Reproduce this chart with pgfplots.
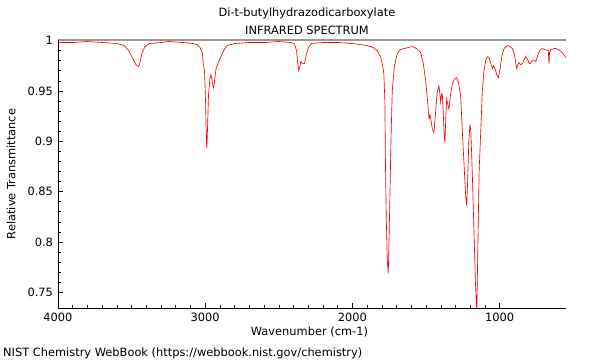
\documentclass[border=0pt]{standalone}
\usepackage{pgfplots}
\pgfplotsset{compat=1.18}
\usepackage{fontspec}
\setmainfont{DejaVu Sans}
\newcommand{\fs}{\fontsize{11.4bp}{13.5bp}\selectfont}
\begin{document}
\fs
\begin{tikzpicture}
\path[use as bounding box] (0,0) rectangle (600bp,360bp);
\begin{axis}[
  at={(58bp,52bp)}, anchor=south west,
  scale only axis, width=508bp, height=268bp,
  x dir=reverse,
  xmin=550, xmax=4000, ymin=0.7345, ymax=1.0005,
  xtick={1000,2000,3000,4000},
  minor x tick num=9,
  ytick={0.75,0.8,0.85,0.9,0.95,1},
  yticklabels={0.75,0.8,0.85,0.9,0.95,1},
  minor y tick num=4,
  xtick pos=lower, ytick pos=left,
  tick align=inside,
  major tick length=5bp, minor tick length=3bp,
  tick style={black, line width=0.6bp},
  axis line style={draw=none},
  /pgf/number format/assume math mode=true,
  /pgf/number format/1000 sep={},
  xticklabel style={font=\fs, yshift=-1bp},
  yticklabel style={font=\fs, xshift=-1bp},
  xlabel={Wavenumber (cm-1)},
  ylabel={Relative Transmittance},
  xlabel style={at={(axis description cs:0.495,-0.0896)}, anchor=center, font=\fs},
  ylabel style={at={(axis description cs:-0.0925,0.5)}, anchor=center, font=\fs},
  clip=true,
]
\addplot[red, line width=0.65bp, mark=none] coordinates {
(4000,0.998) (3900,0.998) (3800,0.999) (3700,0.998) (3600,0.997) (3550,0.995)
(3520,0.990) (3495,0.983) (3470,0.976) (3454,0.974) (3445,0.977) (3430,0.987)
(3410,0.994) (3380,0.997) (3300,0.998) (3250,0.999) (3150,0.998) (3080,0.997) (3057,0.996)
(3035,0.993) (3020,0.988) (3012,0.975) (3005,0.970) (2998,0.94) (2992,0.90)
(2989,0.893) (2985,0.91) (2978,0.945) (2970,0.96) (2962,0.966) (2955,0.962)
(2948,0.955) (2943,0.953) (2937,0.96) (2927,0.972) (2900,0.982) (2875,0.99)
(2852,0.995) (2800,0.997) (2700,0.998) (2600,0.998) (2500,0.999) (2420,0.998)
(2395,0.997) (2380,0.990) (2370,0.975) (2365,0.970) (2358,0.974) (2350,0.979)
(2340,0.977) (2327,0.977) (2315,0.985) (2300,0.993) (2280,0.997) (2200,0.998)
(2100,0.998) (2000,0.997) (1950,0.996) (1900,0.995) (1860,0.993) (1832,0.990)
(1810,0.984) (1795,0.975) (1787,0.967) (1780,0.94) (1776,0.877) (1770,0.82)
(1763,0.78) (1757,0.769) (1752,0.80) (1746,0.844) (1740,0.89) (1737,0.91)
(1730,0.95) (1715,0.975) (1696,0.987) (1675,0.991) (1651,0.992) (1620,0.993)
(1594,0.994) (1565,0.992) (1537,0.988) (1520,0.978) (1503,0.96) (1490,0.94)
(1480,0.922) (1474,0.926) (1469,0.923) (1458,0.912) (1447,0.909) (1435,0.93)
(1425,0.948) (1413,0.955) (1405,0.945) (1401,0.939) (1395,0.947) (1390,0.947)
(1384,0.93) (1377,0.905) (1372,0.899) (1366,0.925) (1360,0.942) (1356,0.939)
(1345,0.932) (1335,0.945) (1322,0.957) (1305,0.962) (1293,0.963) (1280,0.958)
(1265,0.944) (1254,0.91) (1240,0.87) (1231,0.845) (1224,0.836) (1218,0.86)
(1210,0.90) (1202,0.917) (1196,0.91) (1186,0.867) (1175,0.81) (1165,0.76)
(1156,0.728) (1148,0.80) (1140,0.87) (1129,0.910) (1118,0.95) (1107,0.970)
(1095,0.980) (1085,0.984) (1073,0.983) (1062,0.978) (1050,0.972) (1042,0.975)
(1034,0.973) (1020,0.966) (1009,0.963) (998,0.972) (985,0.985) (971,0.992)
(948,0.995) (930,0.994) (914,0.992) (900,0.986) (888,0.975) (884,0.972)
(877,0.976) (869,0.978) (858,0.976) (846,0.977) (835,0.981) (823,0.984)
(810,0.981) (800,0.977) (794,0.977) (785,0.979) (778,0.980) (765,0.980)
(755,0.979) (745,0.984) (726,0.991) (710,0.992) (694,0.991) (670,0.990)
(667,0.980) (665,0.977) (662,0.988) (653,0.991) (630,0.992) (619,0.992)
(600,0.991) (575,0.988) (551,0.983)
};
\draw[black!40, line width=1.2bp] (rel axis cs:0,1) -- (rel axis cs:1,1);
\draw[black!65, line width=0.8bp] (rel axis cs:1,0) -- (rel axis cs:1,1);
\draw[black, line width=0.8bp] (rel axis cs:0,0) -- (rel axis cs:1,0);
\draw[black, line width=0.8bp] (rel axis cs:0,0) -- (rel axis cs:0,1);
\end{axis}
\node[anchor=center] at (307bp,347bp) {Di-t-butylhydrazodicarboxylate};
\node[anchor=center] at (307bp,330bp) {INFRARED SPECTRUM};
\node[anchor=west, inner sep=0pt] at (3bp,7bp) {NIST Chemistry WebBook (https://webbook.nist.gov/chemistry)};
\end{tikzpicture}
\end{document}
